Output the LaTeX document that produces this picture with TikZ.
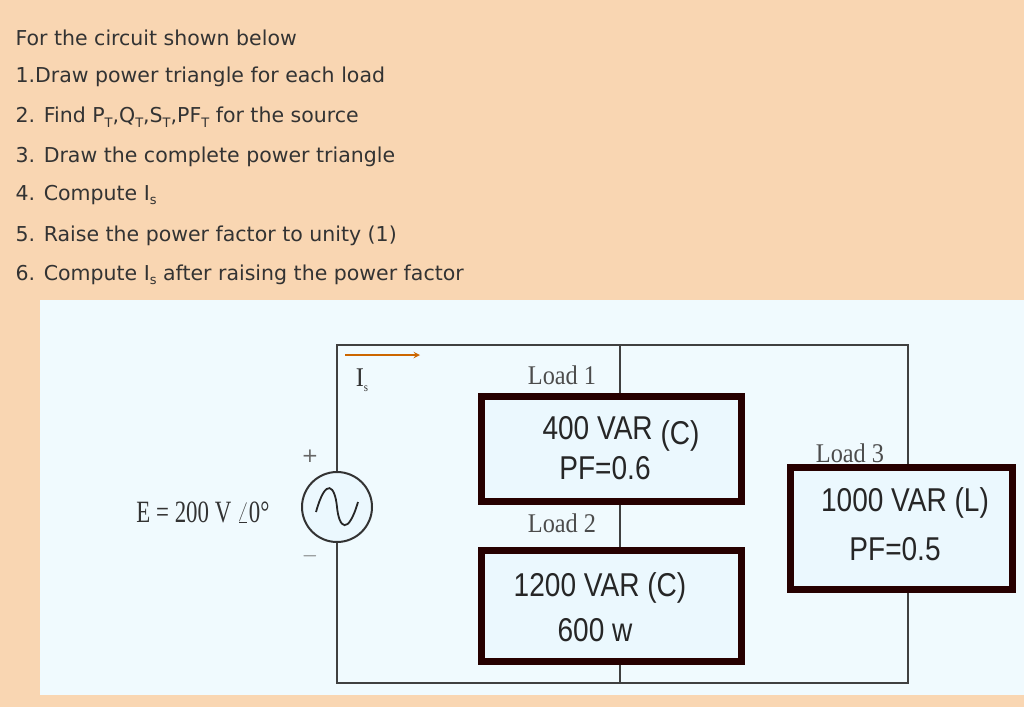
\documentclass[tikz,border=0pt]{standalone}
\usepackage{fontspec}
\setmainfont{DejaVu Sans}
\newfontfamily\serifr{Liberation Serif}
\newfontfamily\narrow{Liberation Sans}
\newcommand{\sbs}[1]{\raisebox{-0.4ex}{\fontsize{13pt}{13pt}\selectfont #1}}
\begin{document}
\begin{tikzpicture}[x=1pt,y=-1pt,
  wire/.style={draw=black!75,line width=1.5pt},
  loadbox/.style={draw=black!85!red,line width=7pt,fill=white!92!cyan},
  q/.style={anchor=west,font=\fontsize{20.5pt}{22pt}\selectfont,text=black!80},
  boxt/.style={font=\narrow\fontsize{33pt}{35pt}\selectfont,xscale=0.85,text=black!85},
  lbl/.style={font=\serifr\fontsize{27pt}{30pt}\selectfont,xscale=0.9,text=black!70}]
\useasboundingbox (0,0) rectangle (1024,707);
\fill[orange!25!white!90!brown] (0,0) rectangle (1024,707);
\fill[cyan!6!white] (40,300) rectangle (1024,695);
\node[q] (t0) at (12,38) {For the circuit shown below};
\node[q] (t1) at (12,77) {1.Draw power triangle for each load};
\node[q] (t2) at (12,117) {2. Find P\sbs{T},Q\sbs{T},S\sbs{T},PF\sbs{T} for the source};
\node[q] (t3) at (12,157) {3. Draw the complete power triangle};
\node[q] (t4) at (12,195) {4. Compute I\sbs{s}};
\node[q] (t5) at (12,236) {5. Raise the power factor  to unity (1)};
\node[q] (t6) at (12,275) {6. Compute I\sbs{s} after raising the power factor};
% wires
\coordinate (tl) at (337,345); \coordinate (tr) at (908,345);
\coordinate (bl) at (337,683); \coordinate (br) at (908,683);
\coordinate (tm) at (620,345); \coordinate (bm) at (620,683);
\node[circle,draw=black!80,line width=2pt,minimum size=70pt,fill=white!92!cyan] (src) at (337,507) {};
\draw[wire] (src.north) -- (tl) -- (tr) -- (908,464);
\draw[wire] (src.south) -- (bl) -- (br) -- (908,592);
\draw[wire] (tm) -- (bm);
\draw[line width=1.8pt,black!85] (316,512) .. controls (326,476) and (335,486) .. (337,507) .. controls (339,528) and (348,536) .. (358,502);
\node[loadbox,minimum width=260pt,minimum height=105pt] (L1) at (611,449) {};
\node[loadbox,minimum width=260pt,minimum height=111pt] (L2) at (611,606) {};
\node[loadbox,minimum width=222pt,minimum height=122pt] (L3) at (901,528) {};
\node[boxt] (l1a) at (621,434) {400 VAR \raisebox{-5pt}{(C)}};
\node[boxt] (l1b) at (605,468) {PF=0.6};
\node[boxt] (l2a) at (600,588) {1200 VAR (C)};
\node[boxt] (l2b) at (595,630) {600 w};
\node[boxt] (l3a) at (905,503) {1000 VAR (L)};
\node[boxt] (l3b) at (895,549) {PF=0.5};
\node[lbl] (n1) at (562,375) {Load 1};
\node[lbl] (n2) at (562,523) {Load 2};
\node[lbl] (n3) at (850,453) {Load 3};
\node[lbl,text=black!80,font=\serifr\fontsize{31pt}{33pt}\selectfont,xscale=0.82] (E) at (203,512) {E = 200 V $\angle$0\textdegree};
\node[font=\fontsize{20pt}{20pt}\selectfont,text=black!60] (pl) at (310,456) {+};
\node[font=\fontsize{20pt}{20pt}\selectfont,text=black!60] (mi) at (310,556) {$-$};
\coordinate (a0) at (345,355); \coordinate (a1) at (420,355);
\draw[orange!80!black,line width=1.8pt,-stealth] (a0) -- (a1);
\node[lbl,text=black!80] (Is) at (362,380) {I\raisebox{-5pt}{\fontsize{12pt}{12pt}\selectfont s}};
\end{tikzpicture}
\end{document}
